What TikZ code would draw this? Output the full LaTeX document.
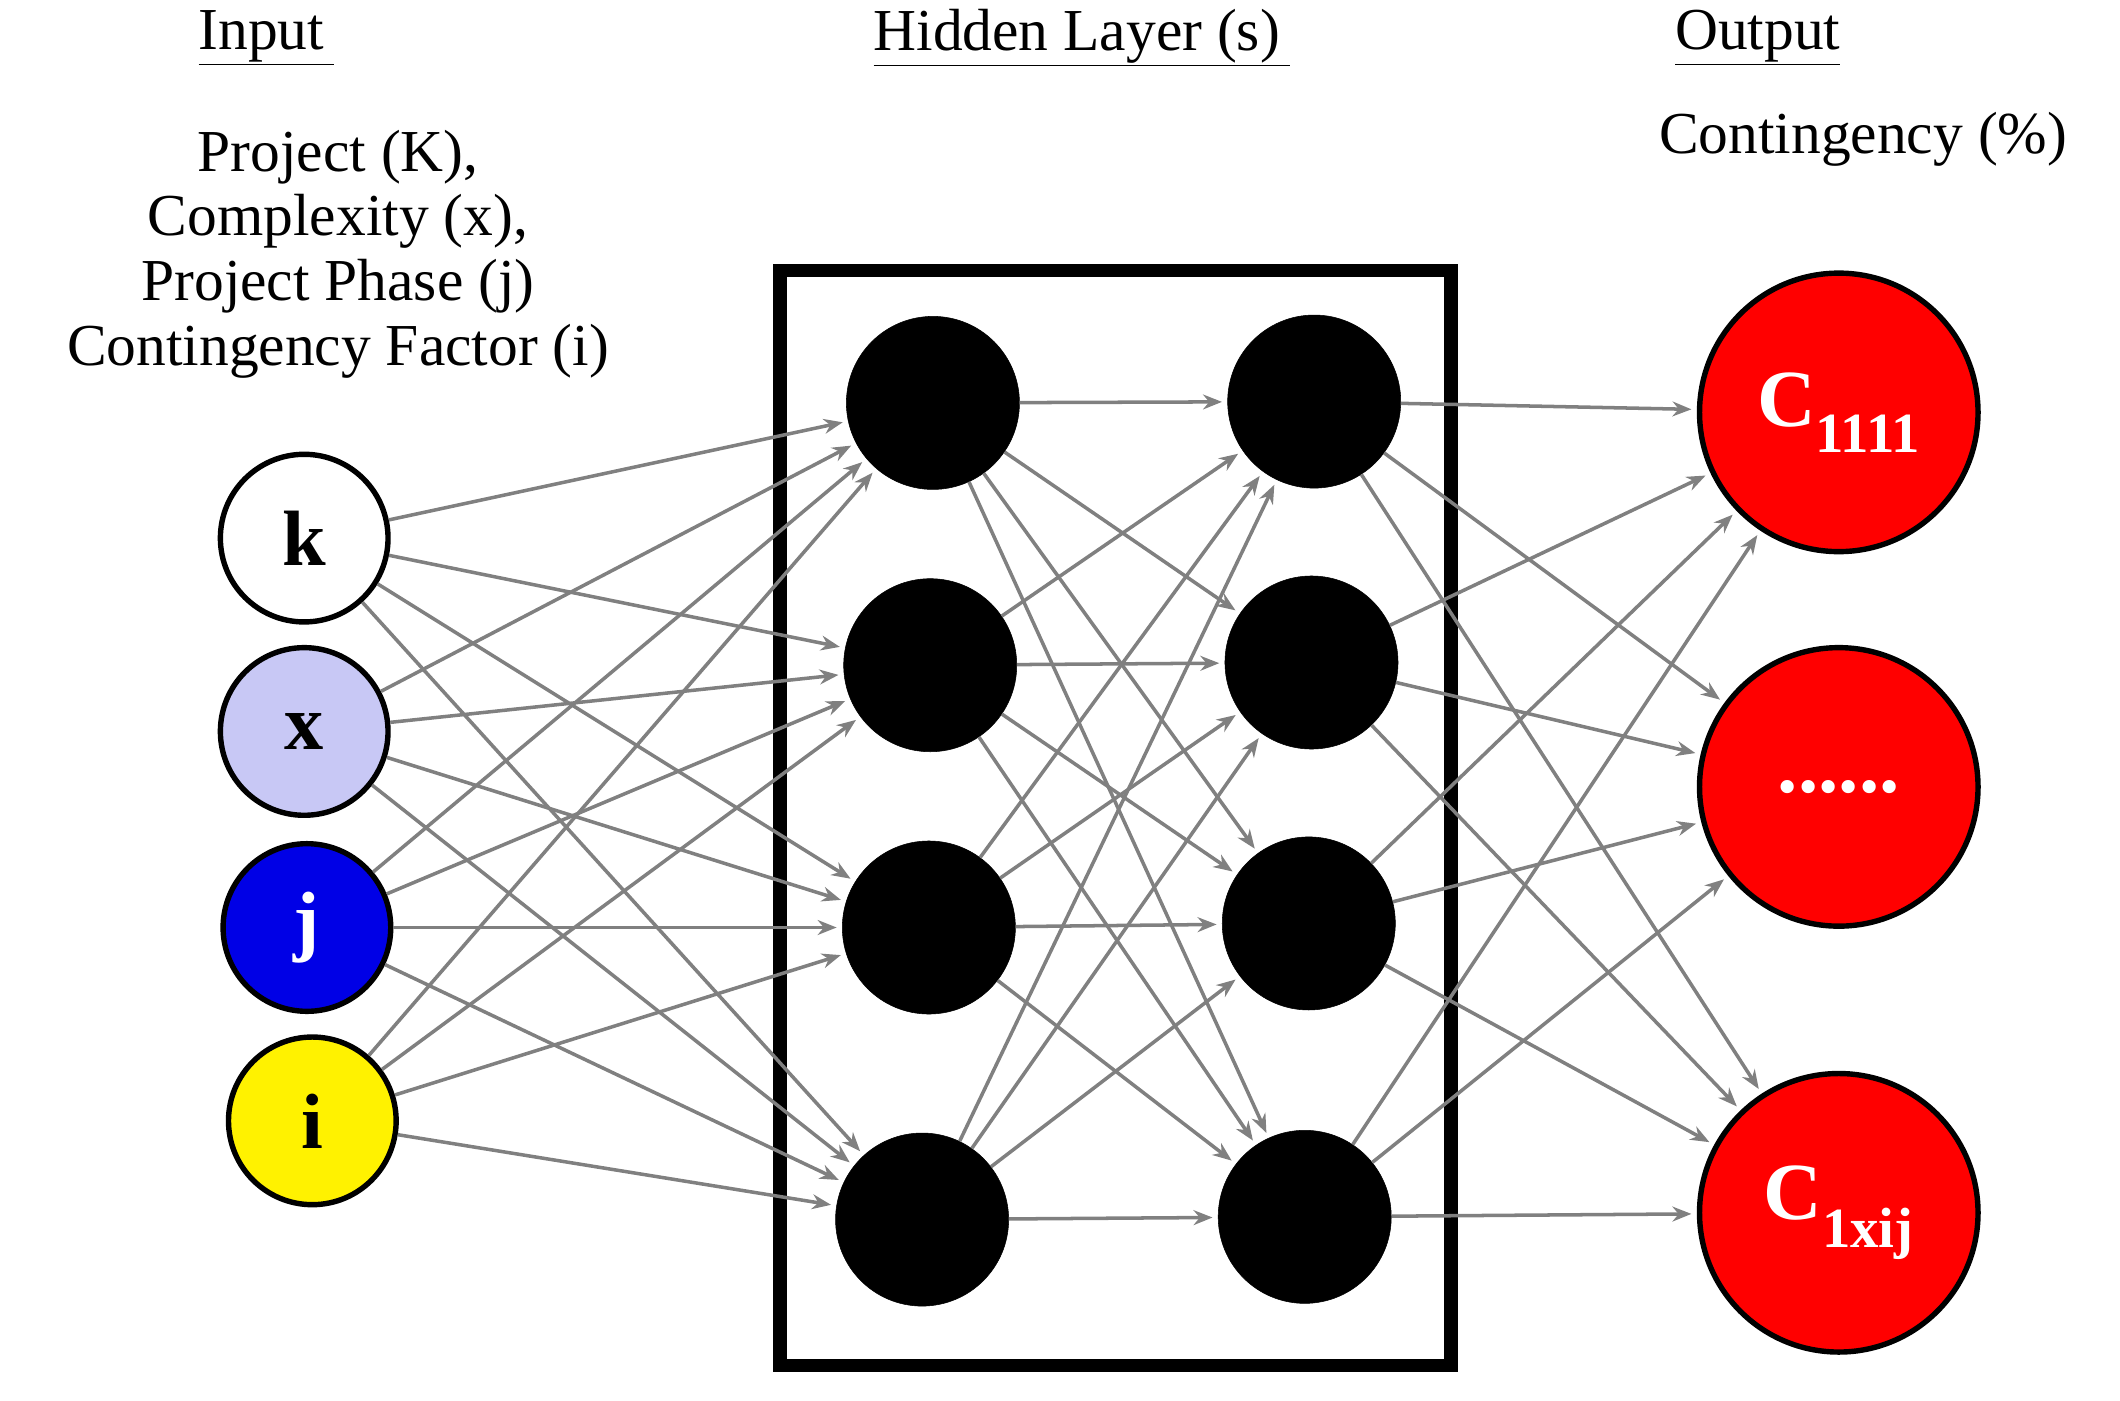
\documentclass[tikz,border=0pt]{standalone}
\usepackage{fontspec}
\setmainfont{Liberation Serif}
\usetikzlibrary{arrows.meta}
\newcommand{\lab}{\fontsize{44}{52}\selectfont}

\begin{document}
\begin{tikzpicture}[x=1pt,y=-1pt,
    inp/.style={draw, circle, line width=4pt, minimum size=124pt, inner sep=0pt, font=\fontsize{58}{60}\selectfont\bfseries},
    hid/.style={draw, circle, fill=black, minimum size=128pt, inner sep=0pt},
    outp/.style={draw, circle, fill=red, line width=4pt, minimum size=206pt, inner sep=0pt, text=white, font=\fontsize{60}{62}\selectfont\bfseries},
    con/.style={draw=gray, line width=2.6pt, -{Stealth[length=14pt,width=11pt]}, shorten >=4pt}]
    \useasboundingbox (0,0) rectangle (1568,1036);

    % Titles
    \node[font=\lab] (title-in) at (197,28) {\underline{Input\,}};
    \node[font=\lab] (title-hid) at (800,28) {\underline{Hidden Layer (s)\,}};
    \node[font=\lab] (title-out) at (1300,28) {\underline{Output}};
    \node[font=\lab, align=center] (desc-in) at (250,188) {Project (K),\\[-4pt]Complexity (x),\\[-4pt]Project Phase (j)\\[-4pt]Contingency Factor (i)};
    \node[font=\lab] (desc-out) at (1378,103) {Contingency (\%)};

    % Hidden box
    \draw[line width=10pt] (577,200) rectangle (1073,1010);

    % Input layer
    \node[inp, fill=white] (in-1) at (225,398) {k};
    \node[inp, fill={rgb,255:red,200;green,200;blue,245}] (in-2) at (225,541) {x};
    \node[inp, fill={rgb,255:red,0;green,0;blue,230}, text=white] (in-3) at (227,686) {j};
    \node[inp, fill=yellow] (in-4) at (231,829) {i};

    % Hidden layers
    \node[hid] (h1-1) at (690,298) {};
    \node[hid] (h1-2) at (688,492) {};
    \node[hid] (h1-3) at (687,686) {};
    \node[hid] (h1-4) at (682,902) {};
    \node[hid] (h2-1) at (972,297) {};
    \node[hid] (h2-2) at (970,490) {};
    \node[hid] (h2-3) at (968,683) {};
    \node[hid] (h2-4) at (965,900) {};

    % Output layer
    \node[outp] (out-1) at (1360,305) {C\textsubscript{1111}};
    \node[outp] (out-2) at (1360,582) {\raisebox{-8pt}{......}};
    \node[outp] (out-3) at (1360,897) {C\textsubscript{1xij}};

    % Connections
    \foreach \a in {1,...,4} {
        \foreach \b in {1,...,4} {
            \draw[con] (in-\a) -- (h1-\b);
            \draw[con] (h1-\a) -- (h2-\b);
        }
        \foreach \b in {1,2,3}
            \draw[con] (h2-\a) -- (out-\b);
    }
\end{tikzpicture}
\end{document}
